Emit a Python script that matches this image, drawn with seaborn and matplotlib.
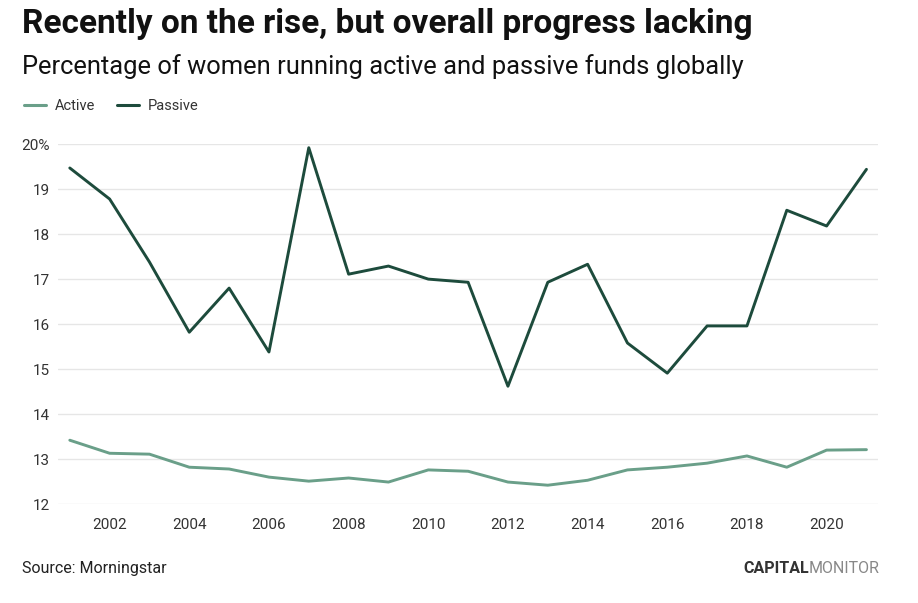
import numpy as np
import pandas as pd
import matplotlib
matplotlib.use("Agg")
import matplotlib.pyplot as plt
import seaborn as sns
from matplotlib.lines import Line2D

years = list(range(2001, 2022))
active = [13.42, 13.13, 13.11, 12.82, 12.78, 12.60, 12.51, 12.58, 12.49, 12.76, 12.73,
          12.49, 12.42, 12.53, 12.76, 12.82, 12.91, 13.07, 12.82, 13.20, 13.21]
passive = [19.47, 18.78, 17.38, 15.82, 16.80, 15.38, 19.92, 17.11, 17.29, 17.00, 16.93,
           14.62, 16.93, 17.33, 15.58, 14.91, 15.96, 15.96, 18.53, 18.18, 19.44]
series = ["Active", "Passive"]
colors = ["#6a9f89", "#1d4b3c"]
y_ticks = [12, 13, 14, 15, 16, 17, 18, 19, 20]
y_labels = ["12", "13", "14", "15", "16", "17", "18", "19", "20%"]
x_ticks = list(range(2002, 2021, 2))

df = pd.DataFrame({"Year": years * 2,
                   "Share": active + passive,
                   "Type": ["Active"] * len(years) + ["Passive"] * len(years)})

sns.set_style("white")
plt.rcParams['font.family'] = ['Roboto', 'DejaVu Sans']

fig = plt.figure(figsize=(9.18, 6.03), dpi=100)
ax = fig.add_axes([0.063, 0.164, 0.893, 0.597])

sns.lineplot(data=df, x="Year", y="Share", hue="Type", hue_order=series,
             palette=colors, linewidth=2.1, ax=ax, legend=False, clip_on=False)

ax.set_xlim(2000.7, 2021.28)
ax.set_ylim(12, 20)
ax.set_yticks(y_ticks)
ax.set_yticklabels(y_labels, fontsize=11, color="#333333")
ax.set_xticks(x_ticks)
ax.set_xticklabels([str(x) for x in x_ticks], fontsize=11, color="#333333")
ax.grid(axis="y", color="#e6e6e6", linewidth=1)
ax.tick_params(axis="both", length=0)
ax.tick_params(axis="x", pad=10)
ax.tick_params(axis="y", pad=6)
ax.set_xlabel("")
ax.set_ylabel("")
for s in ax.spines.values():
    s.set_visible(False)

# legend
handles = [Line2D([0], [0], color=c, linewidth=2.2) for c in colors]
fig.legend(handles, series, loc="center left", bbox_to_anchor=(0.012, 0.824),
           ncol=2, frameon=False, fontsize=10.5, handlelength=1.5,
           handletextpad=0.6, columnspacing=1.5, labelcolor="#333333")

fig.text(0.024, 0.96, "Recently on the rise, but overall progress lacking",
         fontsize=24, fontweight="bold", color="#111111", va="center")
fig.text(0.024, 0.889, "Percentage of women running active and passive funds globally",
         fontsize=18.4, color="#111111", va="center")
fig.text(0.024, 0.057, "Source: Morningstar", fontsize=11.5, color="#222222", va="center")
fig.text(0.881, 0.057, "CAPITAL", fontsize=11.5, fontweight="bold", color="#333333",
         va="center", ha="right")
fig.text(0.881, 0.057, "MONITOR", fontsize=11.5, color="#888888", va="center", ha="left")

fig.savefig("out.png", dpi=100)
